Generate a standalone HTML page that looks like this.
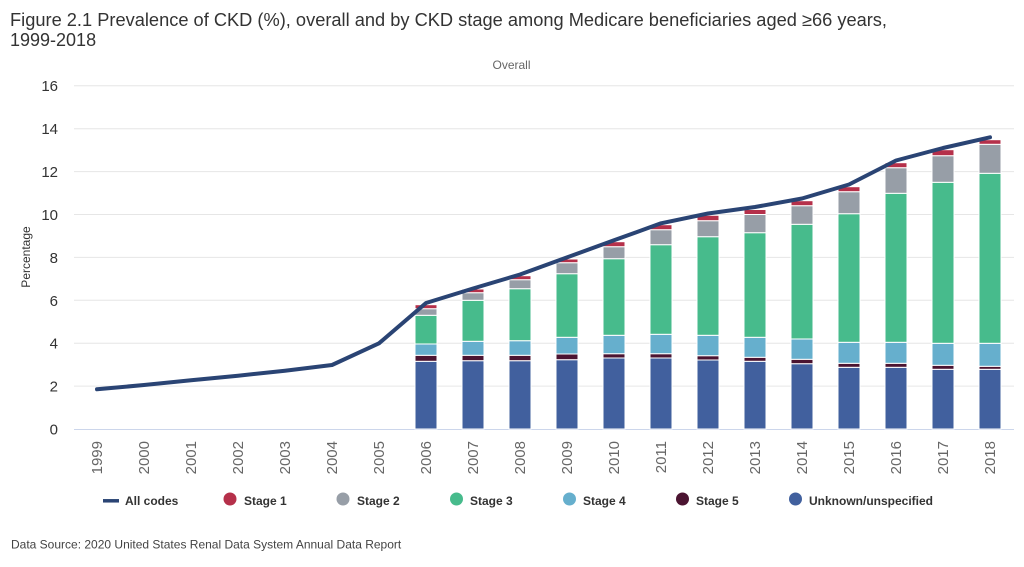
<!DOCTYPE html>
<html>
<head>
<meta charset="utf-8">
<style>
html,body{margin:0;padding:0;background:#fff;}
svg{display:block;}
text{font-family:"Liberation Sans",Arial,Helvetica,sans-serif;}
</style>
</head>
<body>
<svg width="1024" height="567" viewBox="0 0 1024 567" xmlns="http://www.w3.org/2000/svg">
<rect x="0" y="0" width="1024" height="567" fill="#ffffff"/>
<!-- Title -->
<text x="10" y="26" font-size="18" fill="#333333" textLength="877" lengthAdjust="spacingAndGlyphs">Figure 2.1 Prevalence of CKD (%), overall and by CKD stage among Medicare beneficiaries aged ≥66 years,</text>
<text x="10" y="46" font-size="18" fill="#333333">1999-2018</text>
<text x="511.5" y="69" font-size="12" fill="#666666" text-anchor="middle">Overall</text>

<!-- Grid lines -->
<g stroke="#e6e6e6" stroke-width="1">
<line x1="74" y1="85.8" x2="1014" y2="85.8"/>
<line x1="74" y1="128.7" x2="1014" y2="128.7"/>
<line x1="74" y1="171.6" x2="1014" y2="171.6"/>
<line x1="74" y1="214.5" x2="1014" y2="214.5"/>
<line x1="74" y1="257.4" x2="1014" y2="257.4"/>
<line x1="74" y1="300.3" x2="1014" y2="300.3"/>
<line x1="74" y1="343.2" x2="1014" y2="343.2"/>
<line x1="74" y1="386.1" x2="1014" y2="386.1"/>
</g>
<line x1="74" y1="429.5" x2="1014" y2="429.5" stroke="#ccd6eb" stroke-width="1"/>

<!-- Y labels -->
<g font-size="15" fill="#333333" text-anchor="end">
<text x="58" y="91">16</text>
<text x="58" y="134">14</text>
<text x="58" y="177">12</text>
<text x="58" y="220">10</text>
<text x="58" y="263">8</text>
<text x="58" y="306">6</text>
<text x="58" y="348.5">4</text>
<text x="58" y="391.5">2</text>
<text x="58" y="434.5">0</text>
</g>
<text transform="translate(30,257) rotate(-90)" font-size="12" fill="#333333" text-anchor="middle">Percentage</text>

<!-- X labels -->
<g font-size="15" fill="#666666" text-anchor="end">
<text transform="translate(102,441) rotate(-90)">1999</text>
<text transform="translate(149,441) rotate(-90)">2000</text>
<text transform="translate(196,441) rotate(-90)">2001</text>
<text transform="translate(243,441) rotate(-90)">2002</text>
<text transform="translate(290,441) rotate(-90)">2003</text>
<text transform="translate(337,441) rotate(-90)">2004</text>
<text transform="translate(384,441) rotate(-90)">2005</text>
<text transform="translate(431,441) rotate(-90)">2006</text>
<text transform="translate(478,441) rotate(-90)">2007</text>
<text transform="translate(525,441) rotate(-90)">2008</text>
<text transform="translate(572,441) rotate(-90)">2009</text>
<text transform="translate(619,441) rotate(-90)">2010</text>
<text transform="translate(666,441) rotate(-90)">2011</text>
<text transform="translate(713,441) rotate(-90)">2012</text>
<text transform="translate(760,441) rotate(-90)">2013</text>
<text transform="translate(807,441) rotate(-90)">2014</text>
<text transform="translate(854,441) rotate(-90)">2015</text>
<text transform="translate(901,441) rotate(-90)">2016</text>
<text transform="translate(948,441) rotate(-90)">2017</text>
<text transform="translate(995,441) rotate(-90)">2018</text>
</g>

<!-- Bars -->
<g stroke="#ffffff" stroke-width="1">
<!-- 2006 x=415 -->
<rect x="415" y="361.3" width="22" height="67.7" fill="#41609e"/>
<rect x="415" y="355.3" width="22" height="6" fill="#4b1431"/>
<rect x="415" y="344" width="22" height="11.3" fill="#66afcd"/>
<rect x="415" y="315.3" width="22" height="28.7" fill="#47bb8c"/>
<rect x="415" y="308.7" width="22" height="6.6" fill="#979ea7"/>
<rect x="415" y="304.7" width="22" height="4" fill="#b5304a"/>
<!-- 2007 x=462 -->
<rect x="462" y="360.7" width="22" height="68.3" fill="#41609e"/>
<rect x="462" y="355.3" width="22" height="5.4" fill="#4b1431"/>
<rect x="462" y="341.3" width="22" height="14" fill="#66afcd"/>
<rect x="462" y="300.3" width="22" height="41" fill="#47bb8c"/>
<rect x="462" y="292.7" width="22" height="7.6" fill="#979ea7"/>
<rect x="462" y="289" width="22" height="3.7" fill="#b5304a"/>
<!-- 2008 x=509 -->
<rect x="509" y="360.7" width="22" height="68.3" fill="#41609e"/>
<rect x="509" y="355.3" width="22" height="5.4" fill="#4b1431"/>
<rect x="509" y="340.7" width="22" height="14.6" fill="#66afcd"/>
<rect x="509" y="288.7" width="22" height="52" fill="#47bb8c"/>
<rect x="509" y="279.7" width="22" height="9" fill="#979ea7"/>
<rect x="509" y="275.7" width="22" height="4" fill="#b5304a"/>
<!-- 2009 x=556 -->
<rect x="556" y="359.7" width="22" height="69.3" fill="#41609e"/>
<rect x="556" y="354" width="22" height="5.7" fill="#4b1431"/>
<rect x="556" y="337.3" width="22" height="16.7" fill="#66afcd"/>
<rect x="556" y="273.7" width="22" height="63.6" fill="#47bb8c"/>
<rect x="556" y="262.7" width="22" height="11" fill="#979ea7"/>
<rect x="556" y="259" width="22" height="3.7" fill="#b5304a"/>
<!-- 2010 x=603 -->
<rect x="603" y="358" width="22" height="71" fill="#41609e"/>
<rect x="603" y="353.7" width="22" height="4.3" fill="#4b1431"/>
<rect x="603" y="335.3" width="22" height="18.4" fill="#66afcd"/>
<rect x="603" y="258.7" width="22" height="76.6" fill="#47bb8c"/>
<rect x="603" y="246.7" width="22" height="12" fill="#979ea7"/>
<rect x="603" y="241.7" width="22" height="5" fill="#b5304a"/>
<!-- 2011 x=650 -->
<rect x="650" y="358" width="22" height="71" fill="#41609e"/>
<rect x="650" y="353.7" width="22" height="4.3" fill="#4b1431"/>
<rect x="650" y="334.3" width="22" height="19.4" fill="#66afcd"/>
<rect x="650" y="244.7" width="22" height="89.6" fill="#47bb8c"/>
<rect x="650" y="229.7" width="22" height="15" fill="#979ea7"/>
<rect x="650" y="224.7" width="22" height="5" fill="#b5304a"/>
<!-- 2012 x=697 -->
<rect x="697" y="360" width="22" height="69" fill="#41609e"/>
<rect x="697" y="355.7" width="22" height="4.3" fill="#4b1431"/>
<rect x="697" y="335.3" width="22" height="20.4" fill="#66afcd"/>
<rect x="697" y="236.7" width="22" height="98.6" fill="#47bb8c"/>
<rect x="697" y="220.7" width="22" height="16" fill="#979ea7"/>
<rect x="697" y="215.3" width="22" height="5.4" fill="#b5304a"/>
<!-- 2013 x=744 -->
<rect x="744" y="361.3" width="22" height="67.7" fill="#41609e"/>
<rect x="744" y="357.3" width="22" height="4" fill="#4b1431"/>
<rect x="744" y="337.3" width="22" height="20" fill="#66afcd"/>
<rect x="744" y="232.7" width="22" height="104.6" fill="#47bb8c"/>
<rect x="744" y="214.5" width="22" height="18.2" fill="#979ea7"/>
<rect x="744" y="209.5" width="22" height="5" fill="#b5304a"/>
<!-- 2014 x=791 -->
<rect x="791" y="363.7" width="22" height="65.3" fill="#41609e"/>
<rect x="791" y="359.3" width="22" height="4.4" fill="#4b1431"/>
<rect x="791" y="339" width="22" height="20.3" fill="#66afcd"/>
<rect x="791" y="224.3" width="22" height="114.7" fill="#47bb8c"/>
<rect x="791" y="205.7" width="22" height="18.6" fill="#979ea7"/>
<rect x="791" y="200.7" width="22" height="5" fill="#b5304a"/>
<!-- 2015 x=838 -->
<rect x="838" y="367.3" width="22" height="61.7" fill="#41609e"/>
<rect x="838" y="363.3" width="22" height="4" fill="#4b1431"/>
<rect x="838" y="342.3" width="22" height="21" fill="#66afcd"/>
<rect x="838" y="213.7" width="22" height="128.6" fill="#47bb8c"/>
<rect x="838" y="191.7" width="22" height="22" fill="#979ea7"/>
<rect x="838" y="186.7" width="22" height="5" fill="#b5304a"/>
<!-- 2016 x=885 -->
<rect x="885" y="367.3" width="22" height="61.7" fill="#41609e"/>
<rect x="885" y="363.3" width="22" height="4" fill="#4b1431"/>
<rect x="885" y="342.3" width="22" height="21" fill="#66afcd"/>
<rect x="885" y="193.3" width="22" height="149" fill="#47bb8c"/>
<rect x="885" y="167.7" width="22" height="25.6" fill="#979ea7"/>
<rect x="885" y="162.7" width="22" height="5" fill="#b5304a"/>
<!-- 2017 x=932 -->
<rect x="932" y="369.3" width="22" height="59.7" fill="#41609e"/>
<rect x="932" y="365.3" width="22" height="4" fill="#4b1431"/>
<rect x="932" y="343.3" width="22" height="22" fill="#66afcd"/>
<rect x="932" y="182.3" width="22" height="161" fill="#47bb8c"/>
<rect x="932" y="155.7" width="22" height="26.6" fill="#979ea7"/>
<rect x="932" y="149.7" width="22" height="6" fill="#b5304a"/>
<!-- 2018 x=979 -->
<rect x="979" y="369.3" width="22" height="59.7" fill="#41609e"/>
<rect x="979" y="366.3" width="22" height="3" fill="#4b1431"/>
<rect x="979" y="343.3" width="22" height="23" fill="#66afcd"/>
<rect x="979" y="173.3" width="22" height="170" fill="#47bb8c"/>
<rect x="979" y="144.3" width="22" height="29" fill="#979ea7"/>
<rect x="979" y="139.7" width="22" height="4.6" fill="#b5304a"/>
</g>

<!-- All codes line -->
<polyline fill="none" stroke="#2a4474" stroke-width="4" stroke-linejoin="round" stroke-linecap="round"
points="97,389.3 144,385 191,380.3 238,375.7 285,370.7 332,365 379,343.3 426,303 473,288.5 520,274.5 567,257.4 614,240.3 661,223.3 708,213.5 755,207 802,198.5 849,184.5 896,160.5 943,148 990,137.3"/>

<!-- Legend -->
<g font-size="12" font-weight="bold" fill="#333333">
<line x1="103" y1="500.8" x2="119" y2="500.8" stroke="#2a4474" stroke-width="3.5"/>
<text x="125" y="505">All codes</text>
<circle cx="230" cy="499" r="6.5" fill="#b5304a"/>
<text x="244" y="505">Stage 1</text>
<circle cx="343" cy="499" r="6.5" fill="#979ea7"/>
<text x="357" y="505">Stage 2</text>
<circle cx="456.5" cy="499" r="6.5" fill="#47bb8c"/>
<text x="470" y="505">Stage 3</text>
<circle cx="569.5" cy="499" r="6.5" fill="#66afcd"/>
<text x="583" y="505">Stage 4</text>
<circle cx="682.5" cy="499" r="6.5" fill="#4b1431"/>
<text x="696" y="505">Stage 5</text>
<circle cx="795.5" cy="499" r="6.5" fill="#41609e"/>
<text x="809" y="505">Unknown/unspecified</text>
</g>

<!-- Source -->
<text x="11" y="548.5" font-size="12" fill="#444444">Data Source: 2020 United States Renal Data System Annual Data Report</text>
</svg>
</body>
</html>
